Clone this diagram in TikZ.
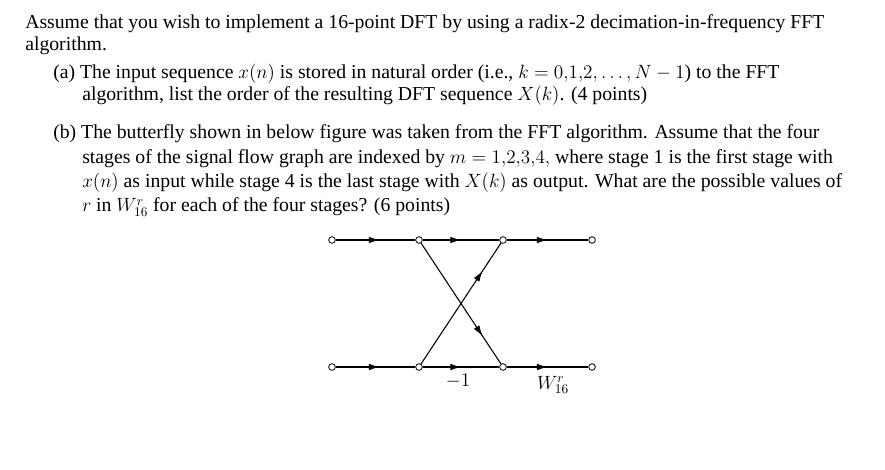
\documentclass[tikz,border=0pt]{standalone}
\usepackage{fontspec}
\setmainfont{Liberation Serif}
\usetikzlibrary{decorations.markings,arrows.meta}
\begin{document}
\begin{tikzpicture}[x=0.75pt,y=-0.75pt,
  txt/.style={anchor=base west,inner sep=0pt,font=\fontsize{14.8}{17}\selectfont},
  dot/.style={circle,draw,fill=white,inner sep=0pt,minimum size=5pt,line width=0.6pt},
  flow/.style={line width=0.8pt,decoration={markings,mark=at position #1 with {\arrow{Latex[length=8pt,width=5pt]}}},postaction={decorate}}]
\useasboundingbox (0,0) rectangle (885,470);
\node[txt] (l1) at (25,29) {Assume that you wish to implement a 16-point DFT by using a radix-2 decimation-in-frequency FFT};
\node[txt] (l2) at (25,51) {algorithm.};
\node[txt] (l3) at (53,79) {(a) The input sequence $x(n)$ is stored in natural order (i.e., $k=0{,}1{,}2,\dots,N-1$) to the FFT};
\node[txt] (l4) at (82,101) {algorithm, list the order of the resulting DFT sequence $X(k)$. (4 points)};
\node[txt] (l5) at (53,139) {(b) The butterfly shown in below figure was taken from the FFT algorithm. Assume that the four};
\node[txt] (l6) at (82,164) {stages of the signal flow graph are indexed by $m=1{,}2{,}3{,}4,$ where stage 1 is the first stage with};
\node[txt] (l7) at (82,188) {$x(n)$ as input while stage 4 is the last stage with $X(k)$ as output. What are the possible values of};
\node[txt] (l8) at (82,212) {$r$ in $W_{16}^r$ for each of the four stages? (6 points)};
\node[dot] (a1) at (332,240) {};
\node[dot] (b1) at (419,240) {};
\node[dot] (c1) at (503,240) {};
\node[dot] (d1) at (592,240) {};
\node[dot] (a2) at (332,367) {};
\node[dot] (b2) at (419,367) {};
\node[dot] (c2) at (503,367) {};
\node[dot] (d2) at (592,367) {};
\draw[flow=0.55] (a1) -- (b1);
\draw[flow=0.5] (b1) -- (c1);
\draw[flow=0.5] (c1) -- (d1);
\draw[flow=0.55] (a2) -- (b2);
\draw[flow=0.5] (b2) -- (c2);
\draw[flow=0.5] (c2) -- (d2);
\draw[flow=0.77] (b1) -- (c2);
\draw[flow=0.77] (b2) -- (c1);
\node[font=\fontsize{14}{16}\selectfont] (m1) at (458,381) {$-1$};
\node[font=\fontsize{14}{16}\selectfont] (w) at (553,385) {$W_{16}^r$};
\end{tikzpicture}
\end{document}
